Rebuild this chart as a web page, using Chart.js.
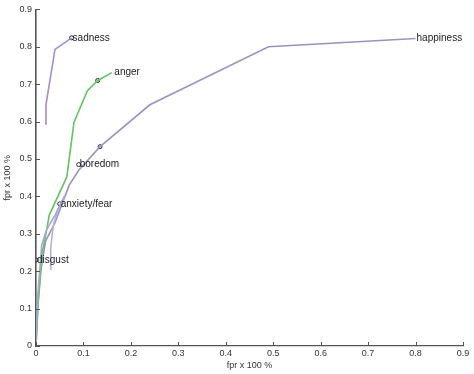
<!DOCTYPE html>
<html>
<head>
<meta charset="utf-8">
<script src="https://cdn.jsdelivr.net/npm/chart.js@4/dist/chart.umd.min.js"></script>
<style>
  html, body { margin: 0; padding: 0; background: #fff; }
  #wrap { width: 474px; height: 374px; }
</style>
</head>
<body>
<div id="wrap"><canvas id="roc"></canvas></div>
<script>
// curves (x = fpr, y = tpr)
const happinessX = [0, 0.003, 0.01, 0.02, 0.04, 0.07, 0.09, 0.135, 0.24, 0.49, 0.80];
const happinessY = [0, 0.10, 0.20, 0.28, 0.33, 0.43, 0.47, 0.533, 0.645, 0.80, 0.822];
const sadnessX = [0.019, 0.021, 0.04, 0.075];
const sadnessY = [0.594, 0.645, 0.793, 0.824];
const angerX = [0, 0.005, 0.013, 0.018, 0.028, 0.065, 0.08, 0.108, 0.13, 0.16];
const angerY = [0, 0.12, 0.25, 0.28, 0.35, 0.452, 0.598, 0.682, 0.71, 0.731];
const fearX = [0, 0.004, 0.012, 0.022, 0.04, 0.06];
const fearY = [0, 0.14, 0.27, 0.31, 0.35, 0.40];
const disgustX = [0.03, 0.031, 0.036, 0.045, 0.06];
const disgustY = [0.205, 0.26, 0.32, 0.36, 0.40];

// operating points (small open circles)
const markerX = [0.075, 0.13, 0.135, 0.09, 0.05, 0.0];
const markerY = [0.824, 0.71, 0.533, 0.485, 0.38, 0.23];

// text labels
const labelNames = ['sadness', 'anger', 'happiness', 'boredom', 'anxiety/fear', 'disgust'];
const labelX = [0.075, 0.163, 0.80, 0.09, 0.05, 0.0];
const labelY = [0.824, 0.731, 0.822, 0.485, 0.38, 0.23];

const ticks = [0, 0.1, 0.2, 0.3, 0.4, 0.5, 0.6, 0.7, 0.8, 0.9];

function pts(xs, ys) {
    return xs.map((x, i) => ({ x: x, y: ys[i] }));
}

function line(data, color) {
    return {
        type: 'line',
        data: data,
        borderColor: color,
        borderWidth: 1.6,
        pointRadius: 0,
        fill: false,
        tension: 0
    };
}

const labelPlugin = {
    id: 'labels',
    afterDatasetsDraw(chart) {
        const ctx = chart.ctx;
        const sx = chart.scales.x, sy = chart.scales.y;
        ctx.save();
        ctx.font = '10px "Liberation Sans", Arial, sans-serif';
        ctx.fillStyle = '#222';
        ctx.textBaseline = 'middle';
        ctx.textAlign = 'left';
        labelNames.forEach((name, i) => {
            ctx.fillText(name, sx.getPixelForValue(labelX[i]) + 1, sy.getPixelForValue(labelY[i]));
        });
        // inward ticks, matlab style
        ctx.strokeStyle = '#555';
        ctx.lineWidth = 1;
        ctx.beginPath();
        ticks.forEach(t => {
            const px = Math.round(sx.getPixelForValue(t)) + 0.5;
            ctx.moveTo(px, sy.bottom);
            ctx.lineTo(px, sy.bottom - 4);
            const py = Math.round(sy.getPixelForValue(t)) + 0.5;
            ctx.moveTo(sx.left, py);
            ctx.lineTo(sx.left + 4, py);
        });
        ctx.stroke();
        ctx.restore();
    }
};

new Chart(document.getElementById('roc'), {
    type: 'scatter',
    data: {
        datasets: [
            line(pts(fearX, fearY), '#a9a6d0'),
            line(pts(disgustX, disgustY), '#b4b2dc'),
            line(pts(angerX, angerY), '#62c462'),
            line(pts(happinessX, happinessY), '#9894c2'),
            line(pts(sadnessX, sadnessY), '#a78bd6'),
            {
                type: 'scatter',
                data: pts(markerX, markerY),
                pointRadius: 2,
                pointBackgroundColor: 'rgba(255,255,255,0)',
                pointBorderColor: '#222',
                pointBorderWidth: 1
            }
        ]
    },
    options: {
        responsive: true,
        maintainAspectRatio: false,
        animation: false,
        layout: { padding: { top: 5, right: 11, left: 0, bottom: 0 } },
        plugins: { legend: { display: false }, tooltip: { enabled: false } },
        scales: {
            x: {
                type: 'linear',
                min: 0,
                max: 0.9,
                afterFit: s => { s.height = 28; },
                afterBuildTicks: s => { s.ticks = ticks.map(v => ({ value: v })); },
                ticks: {
                    padding: 2,
                    color: '#333',
                    font: { size: 9, family: '"Liberation Sans", Arial, sans-serif' },
                    callback: v => String(v)
                },
                grid: { drawOnChartArea: false, drawTicks: false },
                border: { color: '#555', width: 1.2 },
                title: {
                    display: true,
                    text: 'fpr x 100 %',
                    color: '#333',
                    font: { size: 9, family: '"Liberation Sans", Arial, sans-serif' },
                    padding: { top: 0, bottom: 3 }
                }
            },
            y: {
                type: 'linear',
                min: 0,
                max: 0.9,
                afterFit: s => { s.width = 36; },
                afterBuildTicks: s => { s.ticks = ticks.map(v => ({ value: v })); },
                ticks: {
                    padding: 4,
                    color: '#333',
                    font: { size: 9, family: '"Liberation Sans", Arial, sans-serif' },
                    callback: v => String(v)
                },
                grid: { drawOnChartArea: false, drawTicks: false },
                border: { color: '#555', width: 1.6 },
                title: {
                    display: true,
                    text: 'fpr x 100 %',
                    color: '#333',
                    font: { size: 9, family: '"Liberation Sans", Arial, sans-serif' },
                    padding: { top: 2, bottom: 0 }
                }
            }
        }
    },
    plugins: [labelPlugin]
});
</script>
</body>
</html>
